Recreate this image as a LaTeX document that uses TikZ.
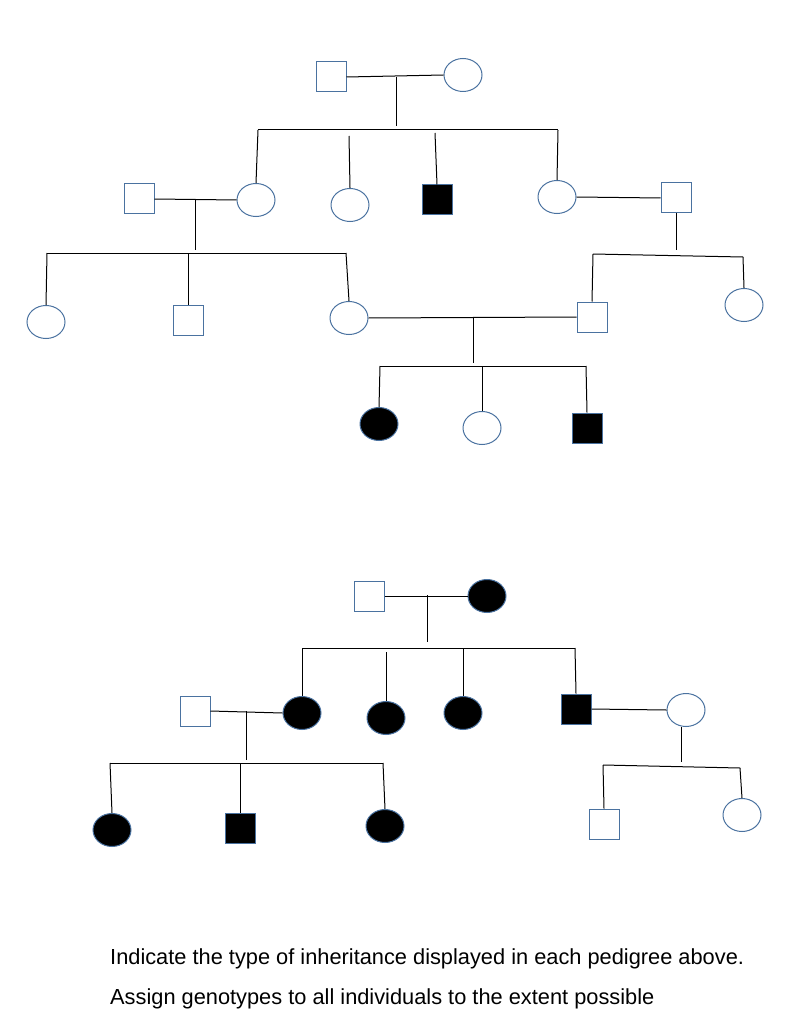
\documentclass[tikz,border=0pt]{standalone}
\usepackage{fontspec}
\setmainfont{Liberation Sans}
\usetikzlibrary{shapes.geometric}
\definecolor{edge}{HTML}{4A72A0}
\begin{document}
\begin{tikzpicture}[x=1pt,y=-1pt,
  m/.style={draw=edge,line width=1pt,fill=white,rectangle,minimum size=30pt,inner sep=0pt},
  f/.style={draw=edge,line width=1pt,fill=white,ellipse,minimum width=38pt,minimum height=33pt,inner sep=0pt},
  am/.style={m,fill=black},
  af/.style={f,fill=black},
  ln/.style={line width=1pt,black}]
\useasboundingbox (0,0) rectangle (798,1024);
\fill[white] (0,0) rectangle (798,1024);
% Pedigree 1
\node[m] (A) at (331,77) {};
\node[f] (B) at (463,75) {};
\node[f] (C) at (256,200) {};
\node[f] (D) at (350,205) {};
\node[am] (E) at (437,200) {};
\node[f] (F) at (557,197) {};
\node[m] (G) at (139,199) {};
\node[m] (I) at (676,198) {};
\node[f] (K1) at (46,322) {};
\node[m] (K2) at (188,320) {};
\node[f] (H) at (349,318) {};
\node[m] (J) at (592,317) {};
\node[f] (L) at (744,305) {};
\node[af] (N1) at (379,424) {};
\node[f] (N2) at (482,428) {};
\node[am] (N3) at (587,428) {};
\draw[ln] (A.east) -- (B.west);
\draw[ln] (396,77) -- (396,126);
\draw[ln] (258,130) -- (558,130);
\draw[ln] (258,130) -- (C.north);
\draw[ln] (349,136) -- (D.north);
\draw[ln] (435,133) -- (E.north);
\draw[ln] (558,130) -- (F.north);
\draw[ln] (G.east) -- (C.west);
\draw[ln] (195,200) -- (195,250);
\draw[ln] (47,253) -- (346,253);
\draw[ln] (47,253) -- (K1.north);
\draw[ln] (188,253) -- (K2.north);
\draw[ln] (346,253) -- (H.north);
\draw[ln] (F.east) -- (I.west);
\draw[ln] (I.south) -- (676,250);
\draw[ln] (593,254) -- (743,257);
\draw[ln] (593,254) -- (J.north);
\draw[ln] (743,257) -- (L.north);
\draw[ln] (H.east) -- (J.west);
\draw[ln] (473,318) -- (473,363);
\draw[ln] (380,366) -- (586,366);
\draw[ln] (380,366) -- (N1.north);
\draw[ln] (482,366) -- (N2.north);
\draw[ln] (586,366) -- (N3.north);
% Pedigree 2
\node[m] (P) at (369,596) {};
\node[af] (Q) at (487,596) {};
\node[af] (R1) at (302,713) {};
\node[af] (R2) at (386,718) {};
\node[af] (R3) at (463,713) {};
\node[am] (R4) at (576,709) {};
\node[m] (S) at (195,711) {};
\node[f] (T) at (686,710) {};
\node[af] (U1) at (112,830) {};
\node[am] (U2) at (240,828) {};
\node[af] (U3) at (385,826) {};
\node[m] (V1) at (604,824) {};
\node[f] (V2) at (742,815) {};
\draw[ln] (P.east) -- (Q.west);
\draw[ln] (427,595) -- (427,642);
\draw[ln] (302,648) -- (575,648);
\draw[ln] (302,648) -- (R1.north);
\draw[ln] (386,652) -- (R2.north);
\draw[ln] (463,648) -- (R3.north);
\draw[ln] (575,648) -- (R4.north);
\draw[ln] (S.east) -- (R1.west);
\draw[ln] (246,711) -- (246,760);
\draw[ln] (110,763) -- (383,763);
\draw[ln] (110,763) -- (U1.north);
\draw[ln] (240,763) -- (U2.north);
\draw[ln] (383,763) -- (U3.north);
\draw[ln] (R4.east) -- (T.west);
\draw[ln] (681,727) -- (681,762);
\draw[ln] (603,765) -- (740,768);
\draw[ln] (603,765) -- (V1.north);
\draw[ln] (740,768) -- (V2.north);
% Text
\node[anchor=base west,inner sep=0pt,font=\fontsize{21.8}{25}\selectfont] (t1) at (110,964) {Indicate the type of inheritance displayed in each pedigree above.};
\node[anchor=base west,inner sep=0pt,font=\fontsize{21.8}{25}\selectfont] (t2) at (110,1004) {Assign genotypes to all individuals to the extent possible};
\end{tikzpicture}
\end{document}
